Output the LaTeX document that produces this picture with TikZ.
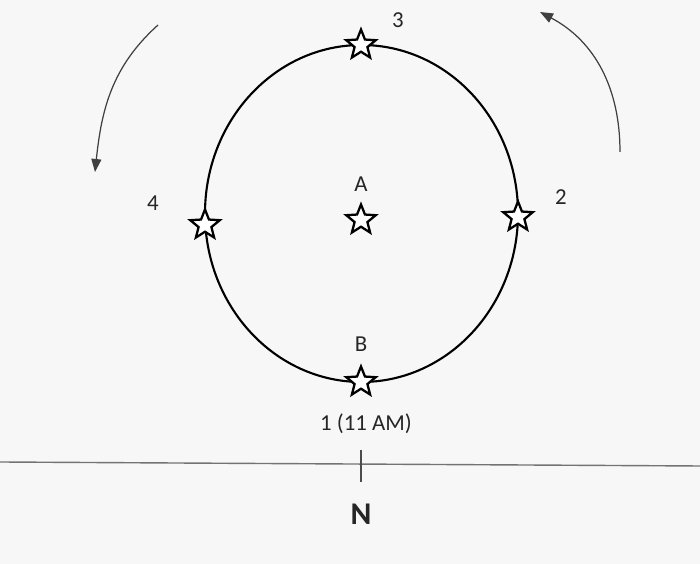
\documentclass[tikz,border=0pt]{standalone}
\usepackage{fontspec}
\setmainfont{Carlito}
\usetikzlibrary{shapes.geometric,arrows.meta}
\begin{document}
\begin{tikzpicture}[x=0.02cm,y=0.02cm,
    starnode/.style={star,star points=5,star point ratio=2.3,minimum size=0.62cm,inner sep=0pt,draw=black,fill=white,line width=1.3pt},
    lbl/.style={font=\fontsize{13}{15}\selectfont,text=black!85},
    turn/.style={line width=0.7pt,draw=black!75,-{Triangle[length=0.26cm,width=0.2cm]}}]
            \fill[black!3] (0,0) rectangle (700,564);
            \useasboundingbox (0,0) rectangle (700,564);
            % orbit
            \draw[line width=1.2pt] (361.5,350.5) ellipse [x radius=156.5,y radius=168.5];
            \node[starnode] (s3) at (361,519) {};
            \node[starnode] (s2) at (518,347) {};
            \node[starnode] (s4) at (205,339) {};
            \node[starnode] (sa) at (361,344) {};
            \node[starnode] (s1) at (361,182) {};
            \node[lbl] (l3) at (398,544) {3};
            \node[lbl] (l2) at (561,367) {2};
            \node[lbl] (l4) at (153,361) {4};
            \node[lbl] (la) at (361,380) {A};
            \node[lbl] (lb) at (361,220) {B};
            \node[lbl] (l1) at (366,140) {1 (11 AM)};
            \node[font=\fontsize{18}{20}\selectfont\bfseries,text=black!85] (n) at (361,50) {N};
            % horizon and tick
            \coordinate (hl) at (0,102);
            \coordinate (hr) at (700,98);
            \draw[black!55,line width=0.8pt] (hl) -- (hr);
            \coordinate (tt) at (361,114);
            \coordinate (tb) at (361,82);
            \draw[black!70,line width=0.7pt] (tt) -- (tb);
            % turning arrows
            \coordinate (al0) at (158,539);
            \coordinate (al1) at (95,392);
            \draw[turn] (al0) to[out=222,in=84] (al1);
            \coordinate (ar0) at (620,412);
            \coordinate (ar1) at (540,552);
            \draw[turn] (ar0) to[out=90,in=-28] (ar1);
\end{tikzpicture}
\end{document}
